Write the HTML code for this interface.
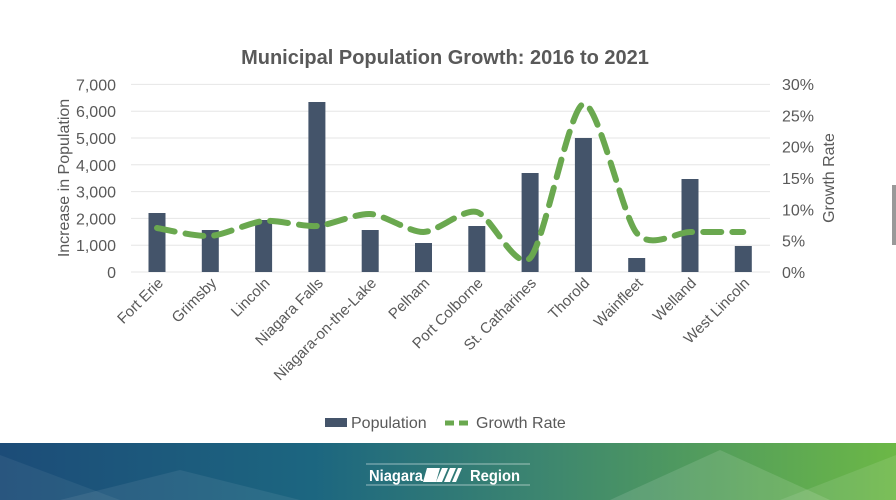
<!DOCTYPE html>
<html><head><meta charset="utf-8"><style>
html,body{margin:0;padding:0;width:896px;height:500px;overflow:hidden;background:#fff;font-family:"Liberation Sans",sans-serif}
</style></head><body>
<svg width="896" height="500" viewBox="0 0 896 500" xmlns="http://www.w3.org/2000/svg" font-family="Liberation Sans, sans-serif">
<defs>
<linearGradient id="ft" x1="0" y1="0" x2="1" y2="0">
<stop offset="0" stop-color="#1c4c78"/><stop offset="0.35" stop-color="#1c6680"/><stop offset="0.6" stop-color="#3c8570"/><stop offset="1" stop-color="#6cb846"/>
</linearGradient>
</defs>
<text x="445" y="64" text-anchor="middle" font-size="20" font-weight="bold" fill="#595959">Municipal Population Growth: 2016 to 2021</text>
<g stroke="#e6e6e6" stroke-width="1" id="grid"></g>
<g id="bars" fill="#44546a"></g>
<path id="line" fill="none" stroke="#6aa84f" stroke-width="6" stroke-dasharray="18 11" stroke-linecap="round"/>
<g id="lt" font-size="16" fill="#595959" text-anchor="end"></g>
<g id="rt" font-size="16" fill="#595959" text-anchor="start"></g>
<g id="xl" font-size="15" fill="#595959" text-anchor="end"></g>
<text transform="translate(69,178) rotate(-90)" text-anchor="middle" font-size="16" fill="#595959">Increase in Population</text>
<text transform="translate(834,178) rotate(-90)" text-anchor="middle" font-size="16" fill="#595959">Growth Rate</text>
<rect x="325" y="418" width="22" height="9" fill="#44546a"/>
<text x="351" y="428" font-size="16" fill="#595959">Population</text>
<line x1="445" y1="423" x2="470" y2="423" stroke="#6aa84f" stroke-width="5" stroke-dasharray="9 5"/>
<text x="476" y="428" font-size="16" fill="#595959">Growth Rate</text>
<rect x="892" y="185" width="4" height="60" fill="#999"/>
<rect x="0" y="443" width="896" height="57" fill="url(#ft)"/>
<polygon points="0,455 120,500 0,500" fill="#ffffff" opacity="0.06"/>
<polygon points="60,500 180,470 300,500" fill="#ffffff" opacity="0.07"/>
<polygon points="610,500 720,450 830,500" fill="#ffffff" opacity="0.12"/>
<polygon points="780,500 896,455 896,500" fill="#ffffff" opacity="0.1"/>
<line x1="366" y1="464" x2="530" y2="464" stroke="#fff" stroke-width="0.8" opacity="0.7"/>
<line x1="366" y1="485" x2="530" y2="485" stroke="#fff" stroke-width="0.8" opacity="0.7"/>
<text x="369" y="481" font-size="16" font-weight="bold" fill="#fff" textLength="54" lengthAdjust="spacingAndGlyphs">Niagara</text>
<polygon points="427,468 440,468 436,482 423,482" fill="#fff"/>
<polygon points="442,468 448,468 442,482 436,482" fill="#fff"/>
<polygon points="450,468 456,468 450,482 444,482" fill="#fff"/>
<polygon points="458,468 462,468 456,482 452,482" fill="#fff"/>
<text x="470" y="481" font-size="16" font-weight="bold" fill="#fff" textLength="50" lengthAdjust="spacingAndGlyphs">Region</text>
</svg>
<script>
var ns="http://www.w3.org/2000/svg";
function el(t,a,p,txt){var e=document.createElementNS(ns,t);for(var k in a)e.setAttribute(k,a[k]);if(txt)e.textContent=txt;document.getElementById(p).appendChild(e);return e;}
var y0=272,step=26.8;
for(var i=0;i<=7;i++){var y=y0-i*step;el('line',{x1:131,x2:770,y1:y,y2:y},'grid');
el('text',{x:116,y:y+6},'lt',i==0?'0':(i+',000'));}
for(var i=0;i<=6;i++){var y=y0-i*188/6;el('text',{x:782,y:y+6},'rt',(i*5)+'%');}
var names=["Fort Erie","Grimsby","Lincoln","Niagara Falls","Niagara-on-the-Lake","Pelham","Port Colborne","St. Catharines","Thorold","Wainfleet","Welland","West Lincoln"];
var tops=[213,230,220,102,230,243,226,173,138,258,179,246];
var ly=[228,236,221,226,214,232,212,258,104,233,232,232];
var pts=[];
for(var i=0;i<12;i++){var cx=157+i*53.3;
el('rect',{x:cx-8.5,y:tops[i],width:17,height:y0-tops[i]},'bars');
el('text',{x:cx+7,y:284,transform:'rotate(-45 '+(cx+7)+' 284)'},'xl',names[i]);
pts.push([cx,ly[i]]);}
var d='M'+pts[0][0]+','+pts[0][1];
for(var i=0;i<11;i++){var p0=pts[Math.max(0,i-1)],p1=pts[i],p2=pts[i+1],p3=pts[Math.min(11,i+2)];
var t=7.5;
var c1x=p1[0]+(p2[0]-p0[0])/t,c1y=p1[1]+(p2[1]-p0[1])/t,c2x=p2[0]-(p3[0]-p1[0])/t,c2y=p2[1]-(p3[1]-p1[1])/t;
d+=' C'+c1x+','+c1y+' '+c2x+','+c2y+' '+p2[0]+','+p2[1];}
document.getElementById('line').setAttribute('d',d);
</script>
</body></html>
